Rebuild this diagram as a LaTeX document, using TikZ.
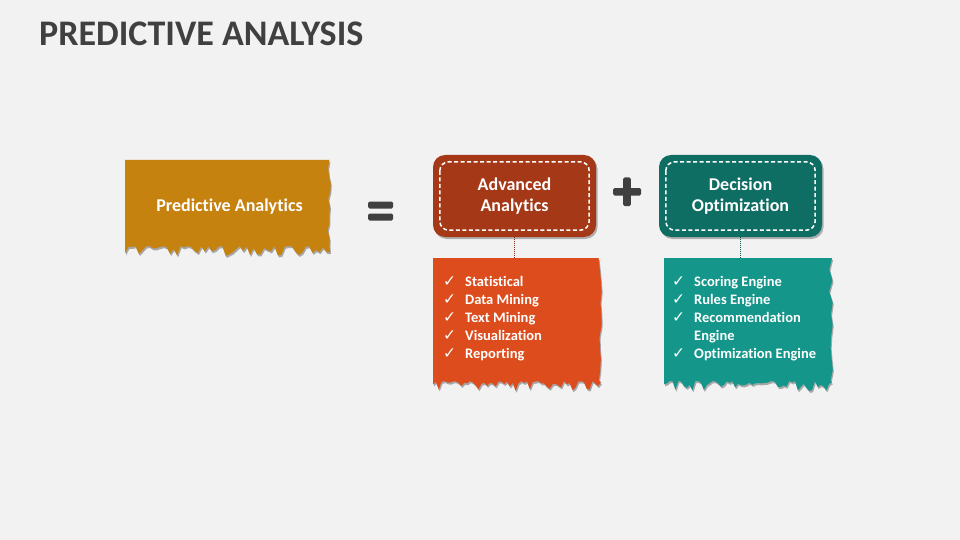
\documentclass[tikz,border=0pt]{standalone}
\usepackage{fontspec}
\setmainfont{Carlito}[Ligatures=NoCommon]
\newfontfamily\symfont{DejaVu Sans}
\usetikzlibrary{shadows}
\definecolor{bgc}{HTML}{F2F2F2}
\definecolor{dgray}{HTML}{404040}
\definecolor{goldc}{HTML}{C5820E}
\definecolor{advc}{HTML}{A53816}
\definecolor{decc}{HTML}{0F6E64}
\definecolor{orgc}{HTML}{DC4C1C}
\definecolor{tealc}{HTML}{14968A}
\newcommand\mytorn[6]{%
  \pgfmathsetmacro\lowy{#4-10}%
  \pgfmathsetseed{#6}%
  \fill[#5, tornshadow] (#1,#2) -- (#3,#2)
    -- plot[domain=#2:\lowy, samples=12] ({#3-1+1.8*rand},{\x})
    -- plot[domain=#3:#1, samples=60] ({\x},{#4-10+10*rnd^2})
    -- cycle;}
\newcommand\ck{{\symfont\bfseries\fontsize{15.5}{18}\selectfont ✓}}
\begin{document}
\begin{tikzpicture}[x=1pt,y=-1pt,
  tornshadow/.style={drop shadow={shadow xshift=1pt, shadow yshift=-2pt, opacity=.45, fill=black!70}},
  rbox/.style={rounded corners=12pt, minimum width=163pt, minimum height=82pt, inner sep=0pt,
    align=center, text=white, font=\bfseries\fontsize{18}{21}\selectfont,
    drop shadow={shadow xshift=1.5pt, shadow yshift=-2pt, opacity=.4, fill=black!70}},
  inner/.style={draw=white, line width=1.5pt, dash pattern=on 4pt off 2.5pt, rounded corners=9pt},
  listtxt/.style={anchor=north west, inner sep=0pt, text=white, font=\bfseries\fontsize{14.5}{18}\selectfont, align=left},
  conn/.style={densely dotted, line width=1pt},
  sign/.style={fill=dgray, rounded corners=1.5pt}
]
\fill[bgc] (0,0) rectangle (960,540);
\useasboundingbox (0,0) rectangle (960,540);
\node[anchor=base west, inner sep=0pt, text=dgray, font=\bfseries\fontsize{36}{40}\selectfont] (title) at (39,46) {PREDICTIVE ANALYSIS};

% Predictive analytics torn box
\mytorn{125}{160}{330}{256}{goldc}{7}
\node[text=white, font=\bfseries\fontsize{18}{20}\selectfont] (pa) at (229.5,207) {Predictive Analytics};

% equals
\fill[sign] (368,201.5) rectangle (393,208.5);
\fill[sign] (368,213.5) rectangle (393,220.5);

% Advanced analytics
\node[rbox, fill=advc] (adv) at (514.5,196) {Advanced\\Analytics};
\draw[inner] ([shift={(7,7)}]adv.north west) rectangle ([shift={(-7,-7)}]adv.south east);

% plus
\fill[sign] (613,188) rectangle (641,195.5);
\fill[sign] (623.2,177.5) rectangle (630.8,206);

% Decision optimization
\node[rbox, fill=decc] (dec) at (740.5,196) {Decision\\Optimization};
\draw[inner] ([shift={(7,7)}]dec.north west) rectangle ([shift={(-7,-7)}]dec.south east);

% lists
\mytorn{433}{258}{601}{391}{orgc}{21}
\coordinate (otop) at (514.5,258);
\mytorn{664}{258}{832}{391}{tealc}{33}
\coordinate (ttop) at (740.5,258);

\draw[conn, advc!80!black] (adv.south) -- (otop);
\draw[conn, decc!80!black] (dec.south) -- (ttop);

\node[listtxt] (olist) at (443,273.5) {\fontsize{14.5}{18}\selectfont
\begin{tabular}{@{}l@{\hspace{9pt}}l@{}}
\ck & Statistical\\
\ck & Data Mining\\
\ck & Text Mining\\
\ck & Visualization\\
\ck & Reporting
\end{tabular}};

\node[listtxt] (tlist) at (672,273.5) {\fontsize{14.5}{18}\selectfont
\begin{tabular}{@{}l@{\hspace{9pt}}l@{}}
\ck & Scoring Engine\\
\ck & Rules Engine\\
\ck & Recommendation\\
 & Engine\\
\ck & Optimization Engine
\end{tabular}};
\end{tikzpicture}
\end{document}
